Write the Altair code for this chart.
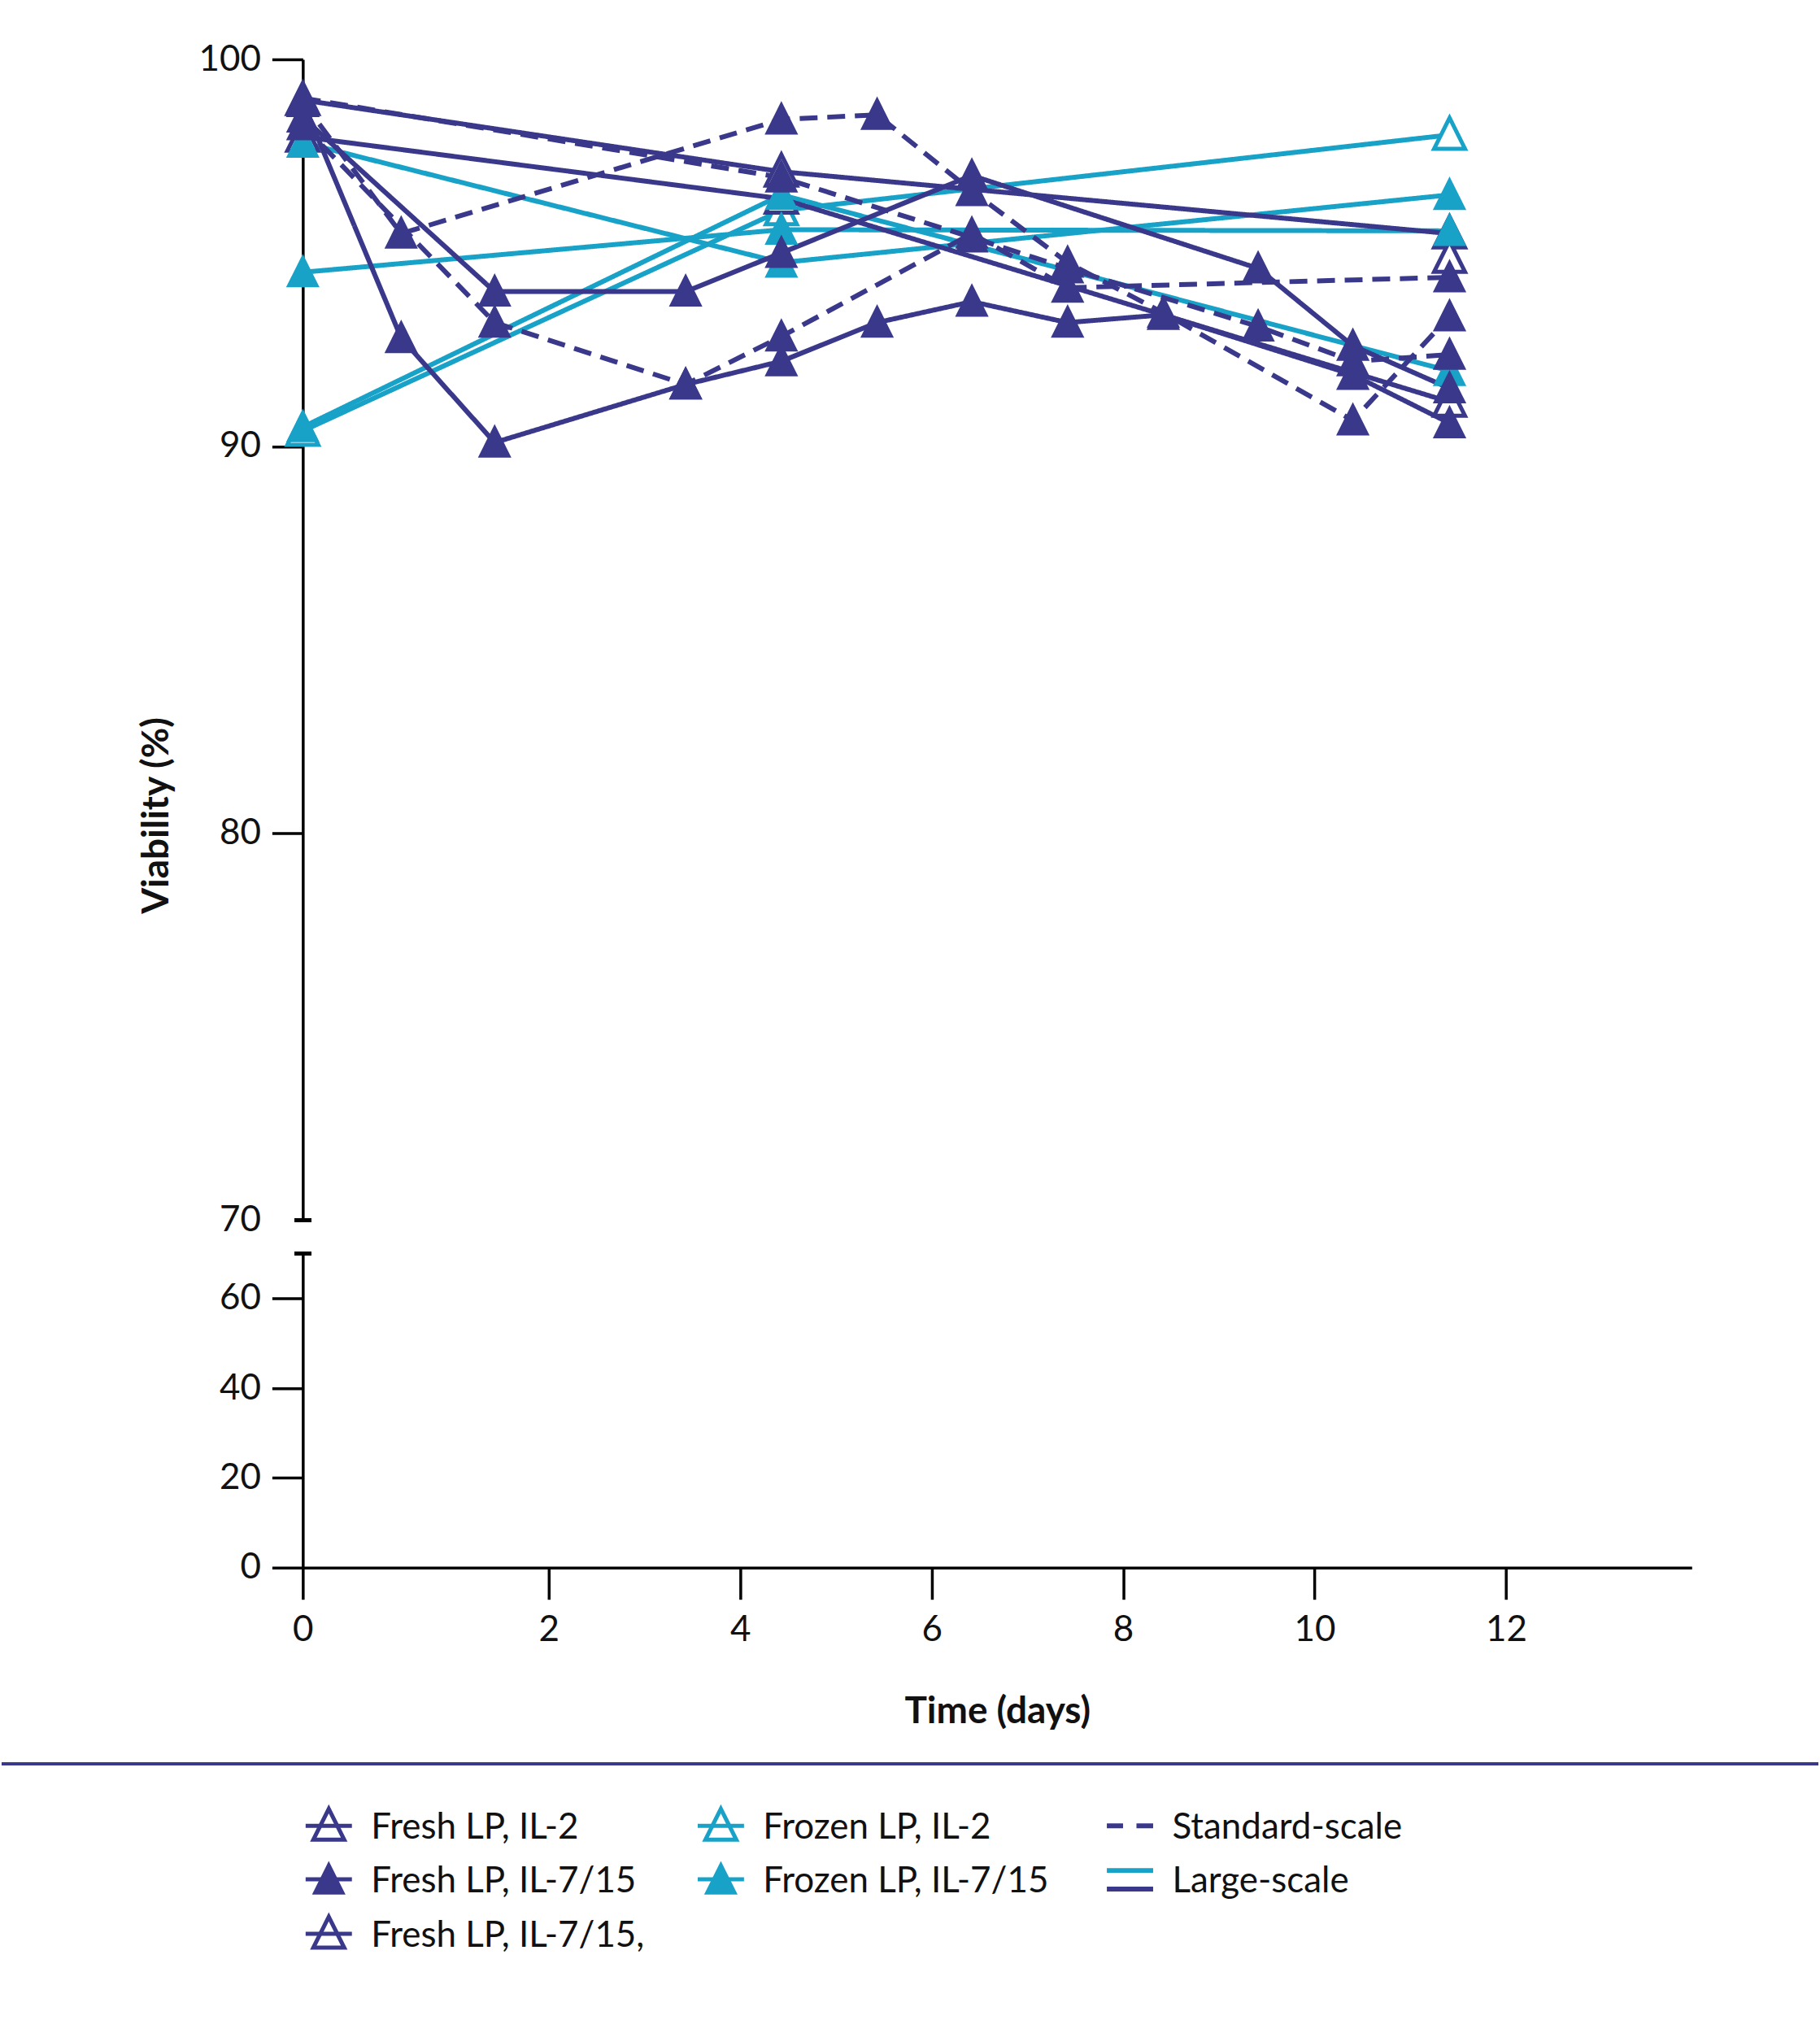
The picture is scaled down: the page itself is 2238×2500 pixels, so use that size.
import altair as alt
import pandas as pd

NAVY = "#3a388a"
CYAN = "#18a2c8"
FONT = "Lato"

# ---------------------------------------------------------------------------
# Viability (%) readings. Days are the sampling times on the time axis.
# ---------------------------------------------------------------------------
large_days = [0, 4.43, 11.41]
frozen_il2_large = [90.4, 96.1, 98.05]
frozen_il715_large_a = [97.85, 94.75, 96.5]
frozen_il715_large_b = [94.5, 95.6, 95.57]
frozen_il715_large_c = [90.5, 96.5, 91.95]
fresh_il2_large = [98.95, 97.1, 95.5]
fresh_il715b_large = [98.0, 96.4, 91.15]

run_e_days = [0, 1.56, 3.43, 4.43, 6.42, 9.41, 10.4, 11.41]
run_e_via = [98.5, 94.0, 94.0, 95.0, 97.0, 94.6, 92.6, 91.5]
run_f_days = [0, 0.8, 1.56, 3.43, 4.43, 5.43, 6.42, 7.42, 8.42, 10.4, 11.41]
run_f_via = [98.9, 92.8, 90.1, 91.6, 92.2, 93.2, 93.74, 93.2, 93.4, 91.85, 90.6]

std_a_days = [0, 0.8, 4.43, 5.43, 6.42, 7.42, 8.42, 10.4, 11.41]
std_a_via = [98.9, 95.5, 98.45, 98.57, 96.6, 94.75, 93.45, 90.67, 93.36]
std_b_days = [0, 4.43, 6.42, 7.42, 9.41, 10.4, 11.41]
std_b_via = [99.0, 96.95, 95.4, 94.6, 93.1, 92.2, 92.37]
std_c_days = [0, 1.56, 3.43, 4.43, 6.42, 7.42, 11.41]
std_c_via = [98.3, 93.2, 91.6, 92.84, 95.5, 94.1, 94.37]

extra_days = [11.41]
extra_via = [94.87]

# (label, days, viability, colour, scale, marker)
series_defs = [
    ("Frozen LP, IL-2", large_days, frozen_il2_large, CYAN, "Large-scale", "open"),
    ("Frozen LP, IL-7/15", large_days, frozen_il715_large_a, CYAN, "Large-scale", "filled"),
    ("Frozen LP, IL-7/15", large_days, frozen_il715_large_b, CYAN, "Large-scale", "filled"),
    ("Frozen LP, IL-7/15", large_days, frozen_il715_large_c, CYAN, "Large-scale", "filled"),
    ("Fresh LP, IL-2", large_days, fresh_il2_large, NAVY, "Large-scale", "open"),
    ("Fresh LP, IL-7/15,", large_days, fresh_il715b_large, NAVY, "Large-scale", "open"),
    ("Fresh LP, IL-7/15", run_e_days, run_e_via, NAVY, "Large-scale", "filled"),
    ("Fresh LP, IL-7/15", run_f_days, run_f_via, NAVY, "Large-scale", "filled"),
    ("Fresh LP, IL-7/15", std_a_days, std_a_via, NAVY, "Standard-scale", "filled"),
    ("Fresh LP, IL-7/15", std_b_days, std_b_via, NAVY, "Standard-scale", "filled"),
    ("Fresh LP, IL-7/15", std_c_days, std_c_via, NAVY, "Standard-scale", "filled"),
    ("Fresh LP, IL-7/15,", extra_days, extra_via, NAVY, "Large-scale", "open"),
]

rows = []
for i, (label, days, vals, color, scale, marker) in enumerate(series_defs):
    for d, v in zip(days, vals):
        rows.append(dict(series=f"s{i:02d}", label=label, day=d, viability=v,
                         color=color, scale=scale, marker=marker))
df = pd.DataFrame(rows)

# Legend entries
legend_labels = ["Fresh LP, IL-2", "Fresh LP, IL-7/15", "Fresh LP, IL-7/15,",
                 "Frozen LP, IL-2", "Frozen LP, IL-7/15",
                 "Standard-scale", "Large-scale"]
legend_col = [0, 0, 0, 1, 1, 2, 2]
legend_row = [0, 1, 2, 0, 1, 0, 1]
legend_color = [NAVY, NAVY, NAVY, CYAN, CYAN, NAVY, NAVY]
legend_kind = ["open", "filled", "open", "open", "filled", "dashed", "double"]
leg = pd.DataFrame(dict(label=legend_labels, col=legend_col, row=legend_row,
                        color=legend_color, kind=legend_kind))

# ---------------------------------------------------------------------------
TRI = "M0,-1.1L1,0.9L-1,0.9Z"
BAR = "M-1,0L1,0"
DASHES = "M-1,0L-0.3,0M0.28,0L1,0"

x_scale = alt.Scale(domain=[0, 2, 13.94], range=[0, 303, 1711], nice=False, zero=False)
y_top = alt.Scale(domain=[70, 100], nice=False, zero=False)
y_low = alt.Scale(domain=[0, 70], nice=False, zero=False)

axis_common = dict(
    domainColor="black", domainWidth=3.5, tickColor="black", tickWidth=3.5,
    labelFont=FONT, labelFontSize=44, labelColor="#111111", grid=False,
    labelOverlap=False, labelFlush=False,
)

top_axis = alt.Axis(
    values=[70, 80, 90, 100], tickSize=38, labelPadding=14,
    tickOpacity={"condition": {"test": "datum.value === 70", "value": 0}, "value": 1},
    title="Viability (%)", titleFont=FONT, titleFontSize=46, titleFontWeight="bold",
    titleColor="#111111", titleX=-180, titleY=931, titleAngle=270,
    titleAlign="center", titleBaseline="middle",
    **axis_common,
)
low_axis = alt.Axis(values=[0, 20, 40, 60], tickSize=38, labelPadding=14, title=None,
                    **axis_common)
x_axis = alt.Axis(
    values=[0, 2, 4, 6, 8, 10, 12], tickSize=39, labelPadding=16,
    title="Time (days)", titleFont=FONT, titleFontSize=46, titleFontWeight="bold",
    titleColor="#111111", titlePadding=56,
    **axis_common,
)

base = alt.Chart(df).encode(
    x=alt.X("day:Q", scale=x_scale, axis=None),
    y=alt.Y("viability:Q", scale=y_top, axis=top_axis),
)

lines = base.mark_line(strokeWidth=6, strokeJoin="miter").encode(
    detail="series:N",
    color=alt.Color("color:N", scale=None),
    strokeDash=alt.StrokeDash(
        "scale:N",
        scale=alt.Scale(domain=["Standard-scale", "Large-scale"], range=[[22, 12], [1, 0]]),
        legend=None,
    ),
    order=alt.Order("day:Q"),
)

open_pts = base.transform_filter(alt.datum.marker == "open").mark_point(
    shape=TRI, size=1450, filled=False, fill="white", strokeWidth=5, opacity=1
).encode(stroke=alt.Stroke("color:N", scale=None))

filled_pts = base.transform_filter(alt.datum.marker == "filled").mark_point(
    shape=TRI, size=1700, filled=True, opacity=1, strokeWidth=0
).encode(fill=alt.Fill("color:N", scale=None))

cap_top = alt.Chart(df).mark_rule(color="black", strokeWidth=3.5).encode(
    y=alt.datum(70), x=alt.value(-10), x2=alt.value(10)
)

top_panel = alt.layer(lines, open_pts, filled_pts, cap_top).properties(width=1711, height=1430)

ground = alt.Chart(df).transform_calculate(base_val="0").mark_point(opacity=0).encode(
    x=alt.X("day:Q", scale=x_scale, axis=x_axis),
    y=alt.Y("base_val:Q", scale=y_low, axis=low_axis),
)
cap_low = alt.Chart(df).mark_rule(color="black", strokeWidth=3.5).encode(
    y=alt.datum(70), x=alt.value(-10), x2=alt.value(10)
)
low_panel = alt.layer(ground, cap_low).properties(width=1711, height=387)

# ---------------------------------------------------------------------------
# Legend panel (separator line on top, three columns of entries below)
lx = alt.X("col:Q", scale=alt.Scale(domain=[0, 1, 2], range=[32, 515, 1019], nice=False, zero=False), axis=None)
ly = alt.Y("row:Q", scale=alt.Scale(domain=[0, 1, 2], range=[277, 343, 410], nice=False, zero=False), axis=None)
lbase = alt.Chart(leg).encode(x=lx, y=ly)

leg_open = lbase.transform_filter(alt.datum.kind == "open").mark_point(
    shape=TRI, size=1450, filled=False, fill="white", strokeWidth=5, opacity=1
).encode(stroke=alt.Stroke("color:N", scale=None))
leg_filled = lbase.transform_filter(alt.datum.kind == "filled").mark_point(
    shape=TRI, size=1700, filled=True, opacity=1, strokeWidth=0
).encode(fill=alt.Fill("color:N", scale=None))
leg_bar = lbase.transform_filter((alt.datum.kind == "open") | (alt.datum.kind == "filled")).mark_point(
    shape=BAR, size=3249, filled=False, strokeWidth=5, opacity=1
).encode(stroke=alt.Stroke("color:N", scale=None))
leg_dash = lbase.transform_filter(alt.datum.kind == "dashed").mark_point(
    shape=DASHES, size=3249, filled=False, strokeWidth=6, opacity=1, color=NAVY
)
leg_large_c = lbase.transform_filter(alt.datum.kind == "double").mark_point(
    shape=BAR, size=3249, filled=False, strokeWidth=6, opacity=1, color=CYAN, yOffset=-11
)
leg_large_n = lbase.transform_filter(alt.datum.kind == "double").mark_point(
    shape=BAR, size=3249, filled=False, strokeWidth=6, opacity=1, color=NAVY, yOffset=12
)
leg_text = lbase.mark_text(
    align="left", baseline="middle", dx=52, dy=3, font=FONT, fontSize=44, color="#111111"
).encode(text="label:N")
separator = alt.Chart(leg).mark_rule(color=NAVY, strokeWidth=3.5).encode(
    y=alt.value(201), x=alt.value(-371), x2=alt.value(1867)
)

legend_panel = alt.layer(
    separator, leg_open, leg_filled, leg_bar, leg_dash, leg_large_c, leg_large_n, leg_text
).properties(width=1711, height=533)

chart = alt.vconcat(top_panel, low_panel, legend_panel, spacing=41, bounds="flush").resolve_scale(
    x="independent", y="independent"
).properties(
    padding={"left": 0, "top": 49, "right": 0, "bottom": 0},
    background="white",
).configure(font=FONT).configure_view(strokeWidth=0, stroke="transparent")

chart.save("out.html", embed_options={"renderer": "svg", "actions": False})
